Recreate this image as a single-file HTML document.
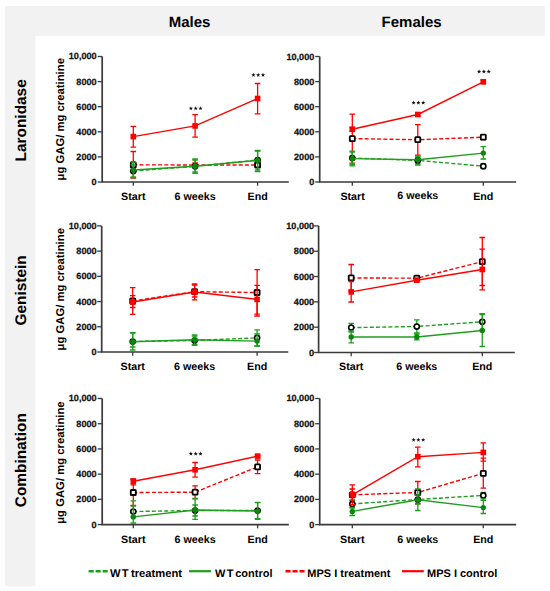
<!DOCTYPE html>
<html><head><meta charset="utf-8"><style>
html,body{margin:0;padding:0;background:#fff;width:550px;height:591px;overflow:hidden}
svg{display:block;text-rendering:geometricPrecision}
text{font-family:"Liberation Sans", sans-serif;font-weight:bold;fill:#000;font-kerning:none}
.h{font-size:15px;text-anchor:middle}
.rl{font-size:15.4px}
.yl{font-size:9.1px;text-anchor:end;fill:#111;stroke:#111;stroke-width:0.25px}
.xl{font-size:10.7px;text-anchor:middle}
.yt{font-size:11.3px;text-anchor:middle}
.lg{font-size:11px}
</style></head><body>
<svg width="550" height="591" viewBox="0 0 550 591">
<rect x="5" y="6" width="540" height="30" fill="#f2f2f2"/>
<rect x="5" y="6" width="30.4" height="580.3" fill="#f2f2f2"/>
<text x="189.5" y="27.2" class="h">Males</text>
<text x="411.6" y="27.2" class="h">Females</text>
<text transform="translate(26.0 120.35) rotate(-90)" class="h rl">Laronidase</text>
<text transform="translate(26.0 290.35) rotate(-90)" class="h rl">Genistein</text>
<text transform="translate(26.0 460.2) rotate(-90)" class="h rl">Combination</text>
<path d="M102.2 56.5 V182 H288.8" fill="none" stroke="#3a3a3a" stroke-width="1.7"/>
<path d="M97.7 182 H102.2" stroke="#3a3a3a" stroke-width="1.3"/>
<text x="96.6" y="185" class="yl">0</text>
<path d="M97.7 156.9 H102.2" stroke="#3a3a3a" stroke-width="1.3"/>
<text x="96.6" y="159.9" class="yl">2000</text>
<path d="M97.7 131.8 H102.2" stroke="#3a3a3a" stroke-width="1.3"/>
<text x="96.6" y="134.8" class="yl">4000</text>
<path d="M97.7 106.7 H102.2" stroke="#3a3a3a" stroke-width="1.3"/>
<text x="96.6" y="109.7" class="yl">6000</text>
<path d="M97.7 81.6 H102.2" stroke="#3a3a3a" stroke-width="1.3"/>
<text x="96.6" y="84.6" class="yl">8000</text>
<path d="M97.7 56.5 H102.2" stroke="#3a3a3a" stroke-width="1.3"/>
<text x="96.6" y="58.9" class="yl">10,000</text>
<path d="M133.3 182 V185.7" stroke="#3a3a3a" stroke-width="1.3"/>
<text x="133.3" y="199.6" class="xl">Start</text>
<text x="195.1" y="199.6" class="xl">6 weeks</text>
<path d="M257.6 182 V185.7" stroke="#3a3a3a" stroke-width="1.3"/>
<text x="257.6" y="199.6" class="xl">End</text>
<text transform="translate(63.6 119.3) rotate(-90)" class="yt">&#956;g GAG/ mg creatinine</text>
<path d="M133.3 164.8 L195.1 165 L257.6 165" fill="none" stroke="#ff0000" stroke-width="1.4" stroke-dasharray="4 2.2"/>
<path d="M133.3 151.5 V178 M130.5 151.5 H136.1 M130.5 178 H136.1" fill="none" stroke="#ff0000" stroke-width="1.3"/>
<path d="M195.1 163 V167 M192.3 163 H197.9 M192.3 167 H197.9" fill="none" stroke="#ff0000" stroke-width="1.3"/>
<path d="M257.6 163 V167 M254.8 163 H260.4 M254.8 167 H260.4" fill="none" stroke="#ff0000" stroke-width="1.3"/>
<rect x="130.8" y="162.3" width="5" height="5" rx="0.6" fill="#fff" stroke="#000" stroke-width="1.8"/>
<rect x="255.1" y="162.5" width="5" height="5" rx="0.6" fill="#fff" stroke="#000" stroke-width="1.8"/>
<path d="M133.3 171 L195.1 166.3 L257.6 160" fill="none" stroke="#1e9e1e" stroke-width="1.4" stroke-dasharray="4 2.2"/>
<path d="M133.3 165 V177 M130.5 165 H136.1 M130.5 177 H136.1" fill="none" stroke="#1e9e1e" stroke-width="1.3"/>
<path d="M195.1 160 V172 M192.3 160 H197.9 M192.3 172 H197.9" fill="none" stroke="#1e9e1e" stroke-width="1.3"/>
<path d="M257.6 151 V170 M254.8 151 H260.4 M254.8 170 H260.4" fill="none" stroke="#1e9e1e" stroke-width="1.3"/>
<circle cx="133.3" cy="171" r="2.55" fill="#fff" stroke="#000" stroke-width="1.6"/>
<circle cx="195.1" cy="166.3" r="2.55" fill="#fff" stroke="#000" stroke-width="1.6"/>
<circle cx="257.6" cy="160" r="2.55" fill="#fff" stroke="#000" stroke-width="1.6"/>
<path d="M133.3 136.6 L195.1 125.9 L257.6 98.5" fill="none" stroke="#ff0000" stroke-width="1.4"/>
<path d="M133.3 126.4 V147.2 M130.5 126.4 H136.1 M130.5 147.2 H136.1" fill="none" stroke="#ff0000" stroke-width="1.3"/>
<path d="M195.1 114.6 V137.2 M192.3 114.6 H197.9 M192.3 137.2 H197.9" fill="none" stroke="#ff0000" stroke-width="1.3"/>
<path d="M257.6 83.5 V113.8 M254.8 83.5 H260.4 M254.8 113.8 H260.4" fill="none" stroke="#ff0000" stroke-width="1.3"/>
<rect x="130.5" y="133.8" width="5.6" height="5.6" fill="#ff0000"/>
<rect x="192.3" y="123.1" width="5.6" height="5.6" fill="#ff0000"/>
<rect x="254.8" y="95.7" width="5.6" height="5.6" fill="#ff0000"/>
<path d="M133.3 170 L195.1 166.3 L257.6 160.4" fill="none" stroke="#1e9e1e" stroke-width="1.4"/>
<path d="M133.3 162 V177.7 M130.5 162 H136.1 M130.5 177.7 H136.1" fill="none" stroke="#1e9e1e" stroke-width="1.3"/>
<path d="M195.1 159 V173.4 M192.3 159 H197.9 M192.3 173.4 H197.9" fill="none" stroke="#1e9e1e" stroke-width="1.3"/>
<path d="M257.6 150.5 V171.7 M254.8 150.5 H260.4 M254.8 171.7 H260.4" fill="none" stroke="#1e9e1e" stroke-width="1.3"/>
<circle cx="133.3" cy="170" r="2.7" fill="#0c860c"/>
<circle cx="195.1" cy="166.3" r="2.7" fill="#0c860c"/>
<circle cx="257.6" cy="160.4" r="2.7" fill="#0c860c"/>
<polygon points="190.9,106.2 191.46,107.63 192.99,107.72 191.8,108.69 192.19,110.18 190.9,109.35 189.61,110.18 190,108.69 188.81,107.72 190.34,107.63" fill="#111"/>
<polygon points="195.7,106.2 196.26,107.63 197.79,107.72 196.6,108.69 196.99,110.18 195.7,109.35 194.41,110.18 194.8,108.69 193.61,107.72 195.14,107.63" fill="#111"/>
<polygon points="200.5,106.2 201.06,107.63 202.59,107.72 201.4,108.69 201.79,110.18 200.5,109.35 199.21,110.18 199.6,108.69 198.41,107.72 199.94,107.63" fill="#111"/>
<polygon points="253.4,72.8 253.96,74.23 255.49,74.32 254.3,75.29 254.69,76.78 253.4,75.95 252.11,76.78 252.5,75.29 251.31,74.32 252.84,74.23" fill="#111"/>
<polygon points="258.2,72.8 258.76,74.23 260.29,74.32 259.1,75.29 259.49,76.78 258.2,75.95 256.91,76.78 257.3,75.29 256.11,74.32 257.64,74.23" fill="#111"/>
<polygon points="263,72.8 263.56,74.23 265.09,74.32 263.9,75.29 264.29,76.78 263,75.95 261.71,76.78 262.1,75.29 260.91,74.32 262.44,74.23" fill="#111"/>
<path d="M319.7 56.5 V182 H516.2" fill="none" stroke="#3a3a3a" stroke-width="1.7"/>
<path d="M315.2 182 H319.7" stroke="#3a3a3a" stroke-width="1.3"/>
<text x="314.3" y="185" class="yl">0</text>
<path d="M315.2 156.9 H319.7" stroke="#3a3a3a" stroke-width="1.3"/>
<text x="314.3" y="159.9" class="yl">2000</text>
<path d="M315.2 131.8 H319.7" stroke="#3a3a3a" stroke-width="1.3"/>
<text x="314.3" y="134.8" class="yl">4000</text>
<path d="M315.2 106.7 H319.7" stroke="#3a3a3a" stroke-width="1.3"/>
<text x="314.3" y="109.7" class="yl">6000</text>
<path d="M315.2 81.6 H319.7" stroke="#3a3a3a" stroke-width="1.3"/>
<text x="314.3" y="84.6" class="yl">8000</text>
<path d="M315.2 56.5 H319.7" stroke="#3a3a3a" stroke-width="1.3"/>
<text x="314.3" y="60.1" class="yl">10,000</text>
<path d="M352.3 182 V185.7" stroke="#3a3a3a" stroke-width="1.3"/>
<text x="352.6" y="200.1" class="xl">Start</text>
<text x="417.8" y="198.6" class="xl">6 weeks</text>
<path d="M483.3 182 V185.7" stroke="#3a3a3a" stroke-width="1.3"/>
<text x="483.3" y="199.6" class="xl">End</text>
<path d="M352.3 138.6 L417.8 139.7 L483.3 137.2" fill="none" stroke="#ff0000" stroke-width="1.4" stroke-dasharray="4 2.2"/>
<path d="M352.3 114.2 V163.1 M349.5 114.2 H355.1 M349.5 163.1 H355.1" fill="none" stroke="#ff0000" stroke-width="1.3"/>
<path d="M417.8 124.7 V155.2 M415 124.7 H420.6 M415 155.2 H420.6" fill="none" stroke="#ff0000" stroke-width="1.3"/>
<path d="M483.3 135 V139.5 M480.5 135 H486.1 M480.5 139.5 H486.1" fill="none" stroke="#ff0000" stroke-width="1.3"/>
<rect x="349.8" y="136.1" width="5" height="5" rx="0.6" fill="#fff" stroke="#000" stroke-width="1.8"/>
<rect x="415.3" y="137.2" width="5" height="5" rx="0.6" fill="#fff" stroke="#000" stroke-width="1.8"/>
<rect x="480.8" y="134.7" width="5" height="5" rx="0.6" fill="#fff" stroke="#000" stroke-width="1.8"/>
<path d="M352.3 158 L417.8 160.4 L483.3 166.2" fill="none" stroke="#1e9e1e" stroke-width="1.4" stroke-dasharray="4 2.2"/>
<path d="M352.3 152 V164.5 M349.5 152 H355.1 M349.5 164.5 H355.1" fill="none" stroke="#1e9e1e" stroke-width="1.3"/>
<path d="M417.8 157 V164 M415 157 H420.6 M415 164 H420.6" fill="none" stroke="#1e9e1e" stroke-width="1.3"/>
<path d="M483.3 164 V168.5 M480.5 164 H486.1 M480.5 168.5 H486.1" fill="none" stroke="#1e9e1e" stroke-width="1.3"/>
<circle cx="352.3" cy="158" r="2.55" fill="#fff" stroke="#000" stroke-width="1.6"/>
<circle cx="417.8" cy="160.4" r="2.55" fill="#fff" stroke="#000" stroke-width="1.6"/>
<circle cx="483.3" cy="166.2" r="2.55" fill="#fff" stroke="#000" stroke-width="1.6"/>
<path d="M352.3 129.3 L417.8 114.5 L483.3 81.8" fill="none" stroke="#ff0000" stroke-width="1.4"/>
<path d="M352.3 127.5 V131.2 M349.5 127.5 H355.1 M349.5 131.2 H355.1" fill="none" stroke="#ff0000" stroke-width="1.3"/>
<path d="M417.8 113 V116 M415 113 H420.6 M415 116 H420.6" fill="none" stroke="#ff0000" stroke-width="1.3"/>
<path d="M483.3 80 V83.5 M480.5 80 H486.1 M480.5 83.5 H486.1" fill="none" stroke="#ff0000" stroke-width="1.3"/>
<rect x="349.5" y="126.5" width="5.6" height="5.6" fill="#ff0000"/>
<rect x="415" y="111.7" width="5.6" height="5.6" fill="#ff0000"/>
<rect x="480.5" y="79" width="5.6" height="5.6" fill="#ff0000"/>
<path d="M352.3 158.6 L417.8 159.8 L483.3 153.1" fill="none" stroke="#1e9e1e" stroke-width="1.4"/>
<path d="M352.3 151.2 V165.9 M349.5 151.2 H355.1 M349.5 165.9 H355.1" fill="none" stroke="#1e9e1e" stroke-width="1.3"/>
<path d="M417.8 156 V165.1 M415 156 H420.6 M415 165.1 H420.6" fill="none" stroke="#1e9e1e" stroke-width="1.3"/>
<path d="M483.3 146.7 V159 M480.5 146.7 H486.1 M480.5 159 H486.1" fill="none" stroke="#1e9e1e" stroke-width="1.3"/>
<circle cx="352.3" cy="158.6" r="2.7" fill="#0c860c"/>
<circle cx="417.8" cy="159.8" r="2.7" fill="#0c860c"/>
<circle cx="483.3" cy="153.1" r="2.7" fill="#0c860c"/>
<polygon points="413.6,100.6 414.16,102.03 415.69,102.12 414.5,103.09 414.89,104.58 413.6,103.75 412.31,104.58 412.7,103.09 411.51,102.12 413.04,102.03" fill="#111"/>
<polygon points="418.4,100.6 418.96,102.03 420.49,102.12 419.3,103.09 419.69,104.58 418.4,103.75 417.11,104.58 417.5,103.09 416.31,102.12 417.84,102.03" fill="#111"/>
<polygon points="423.2,100.6 423.76,102.03 425.29,102.12 424.1,103.09 424.49,104.58 423.2,103.75 421.91,104.58 422.3,103.09 421.11,102.12 422.64,102.03" fill="#111"/>
<polygon points="479.1,69.4 479.66,70.83 481.19,70.92 480,71.89 480.39,73.38 479.1,72.55 477.81,73.38 478.2,71.89 477.01,70.92 478.54,70.83" fill="#111"/>
<polygon points="483.9,69.4 484.46,70.83 485.99,70.92 484.8,71.89 485.19,73.38 483.9,72.55 482.61,73.38 483,71.89 481.81,70.92 483.34,70.83" fill="#111"/>
<polygon points="488.7,69.4 489.26,70.83 490.79,70.92 489.6,71.89 489.99,73.38 488.7,72.55 487.41,73.38 487.8,71.89 486.61,70.92 488.14,70.83" fill="#111"/>
<path d="M101.7 225.9 V352 H288.2" fill="none" stroke="#3a3a3a" stroke-width="1.7"/>
<path d="M97.2 352 H101.7" stroke="#3a3a3a" stroke-width="1.3"/>
<text x="96.6" y="355" class="yl">0</text>
<path d="M97.2 326.78 H101.7" stroke="#3a3a3a" stroke-width="1.3"/>
<text x="96.6" y="329.78" class="yl">2000</text>
<path d="M97.2 301.56 H101.7" stroke="#3a3a3a" stroke-width="1.3"/>
<text x="96.6" y="304.56" class="yl">4000</text>
<path d="M97.2 276.34 H101.7" stroke="#3a3a3a" stroke-width="1.3"/>
<text x="96.6" y="279.34" class="yl">6000</text>
<path d="M97.2 251.12 H101.7" stroke="#3a3a3a" stroke-width="1.3"/>
<text x="96.6" y="254.12" class="yl">8000</text>
<path d="M97.2 225.9 H101.7" stroke="#3a3a3a" stroke-width="1.3"/>
<text x="96.6" y="228.5" class="yl">10,000</text>
<path d="M132.7 352 V355.7" stroke="#3a3a3a" stroke-width="1.3"/>
<text x="132.7" y="370.2" class="xl">Start</text>
<text x="194.6" y="370.2" class="xl">6 weeks</text>
<path d="M257.1 352 V355.7" stroke="#3a3a3a" stroke-width="1.3"/>
<text x="257.1" y="370.2" class="xl">End</text>
<text transform="translate(63.6 289.3) rotate(-90)" class="yt">&#956;g GAG/ mg creatinine</text>
<path d="M132.7 301 L194.6 291.7 L257.1 292.5" fill="none" stroke="#ff0000" stroke-width="1.4" stroke-dasharray="4 2.2"/>
<path d="M132.7 287.7 V314.4 M129.9 287.7 H135.5 M129.9 314.4 H135.5" fill="none" stroke="#ff0000" stroke-width="1.3"/>
<path d="M194.6 285 V297 M191.8 285 H197.4 M191.8 297 H197.4" fill="none" stroke="#ff0000" stroke-width="1.3"/>
<path d="M257.1 269.7 V316 M254.3 269.7 H259.9 M254.3 316 H259.9" fill="none" stroke="#ff0000" stroke-width="1.3"/>
<rect x="130.2" y="298.5" width="5" height="5" rx="0.6" fill="#fff" stroke="#000" stroke-width="1.8"/>
<rect x="192.1" y="289.2" width="5" height="5" rx="0.6" fill="#fff" stroke="#000" stroke-width="1.8"/>
<rect x="254.6" y="290" width="5" height="5" rx="0.6" fill="#fff" stroke="#000" stroke-width="1.8"/>
<path d="M132.7 341.5 L194.6 340.5 L257.1 337.8" fill="none" stroke="#1e9e1e" stroke-width="1.4" stroke-dasharray="4 2.2"/>
<path d="M132.7 333 V347 M129.9 333 H135.5 M129.9 347 H135.5" fill="none" stroke="#1e9e1e" stroke-width="1.3"/>
<path d="M194.6 336 V345 M191.8 336 H197.4 M191.8 345 H197.4" fill="none" stroke="#1e9e1e" stroke-width="1.3"/>
<path d="M257.1 329.8 V346 M254.3 329.8 H259.9 M254.3 346 H259.9" fill="none" stroke="#1e9e1e" stroke-width="1.3"/>
<circle cx="132.7" cy="341.5" r="2.55" fill="#fff" stroke="#000" stroke-width="1.6"/>
<circle cx="194.6" cy="340.5" r="2.55" fill="#fff" stroke="#000" stroke-width="1.6"/>
<circle cx="257.1" cy="337.8" r="2.55" fill="#fff" stroke="#000" stroke-width="1.6"/>
<path d="M132.7 302 L194.6 292 L257.1 299.4" fill="none" stroke="#ff0000" stroke-width="1.4"/>
<path d="M132.7 295.7 V307.5 M129.9 295.7 H135.5 M129.9 307.5 H135.5" fill="none" stroke="#ff0000" stroke-width="1.3"/>
<path d="M194.6 284 V299.8 M191.8 284 H197.4 M191.8 299.8 H197.4" fill="none" stroke="#ff0000" stroke-width="1.3"/>
<path d="M257.1 285.4 V314.1 M254.3 285.4 H259.9 M254.3 314.1 H259.9" fill="none" stroke="#ff0000" stroke-width="1.3"/>
<rect x="129.9" y="299.2" width="5.6" height="5.6" fill="#ff0000"/>
<rect x="191.8" y="289.2" width="5.6" height="5.6" fill="#ff0000"/>
<rect x="254.3" y="296.6" width="5.6" height="5.6" fill="#ff0000"/>
<path d="M132.7 341.7 L194.6 339.7 L257.1 341.1" fill="none" stroke="#1e9e1e" stroke-width="1.4"/>
<path d="M132.7 332.7 V350 M129.9 332.7 H135.5 M129.9 350 H135.5" fill="none" stroke="#1e9e1e" stroke-width="1.3"/>
<path d="M194.6 334.8 V345 M191.8 334.8 H197.4 M191.8 345 H197.4" fill="none" stroke="#1e9e1e" stroke-width="1.3"/>
<path d="M257.1 334 V346.2 M254.3 334 H259.9 M254.3 346.2 H259.9" fill="none" stroke="#1e9e1e" stroke-width="1.3"/>
<circle cx="132.7" cy="341.7" r="2.7" fill="#0c860c"/>
<circle cx="194.6" cy="339.7" r="2.7" fill="#0c860c"/>
<circle cx="257.1" cy="341.1" r="2.7" fill="#0c860c"/>
<path d="M318.6 225.9 V352.5 H514.8" fill="none" stroke="#3a3a3a" stroke-width="1.7"/>
<path d="M314.1 352.5 H318.6" stroke="#3a3a3a" stroke-width="1.3"/>
<text x="314.1" y="355.5" class="yl">0</text>
<path d="M314.1 327.18 H318.6" stroke="#3a3a3a" stroke-width="1.3"/>
<text x="314.1" y="330.18" class="yl">2000</text>
<path d="M314.1 301.86 H318.6" stroke="#3a3a3a" stroke-width="1.3"/>
<text x="314.1" y="304.86" class="yl">4000</text>
<path d="M314.1 276.54 H318.6" stroke="#3a3a3a" stroke-width="1.3"/>
<text x="314.1" y="279.54" class="yl">6000</text>
<path d="M314.1 251.22 H318.6" stroke="#3a3a3a" stroke-width="1.3"/>
<text x="314.1" y="254.22" class="yl">8000</text>
<path d="M314.1 225.9 H318.6" stroke="#3a3a3a" stroke-width="1.3"/>
<text x="314.1" y="228.9" class="yl">10,000</text>
<path d="M351.2 352.5 V356.2" stroke="#3a3a3a" stroke-width="1.3"/>
<text x="351.2" y="370.2" class="xl">Start</text>
<text x="416.8" y="370.2" class="xl">6 weeks</text>
<path d="M482.3 352.5 V356.2" stroke="#3a3a3a" stroke-width="1.3"/>
<text x="482.3" y="370.2" class="xl">End</text>
<path d="M351.2 277.9 L416.8 278.2 L482.3 261.6" fill="none" stroke="#ff0000" stroke-width="1.4" stroke-dasharray="4 2.2"/>
<path d="M351.2 264.5 V291 M348.4 264.5 H354 M348.4 291 H354" fill="none" stroke="#ff0000" stroke-width="1.3"/>
<path d="M416.8 276.5 V280 M414 276.5 H419.6 M414 280 H419.6" fill="none" stroke="#ff0000" stroke-width="1.3"/>
<path d="M482.3 237.5 V285.5 M479.5 237.5 H485.1 M479.5 285.5 H485.1" fill="none" stroke="#ff0000" stroke-width="1.3"/>
<rect x="348.7" y="275.4" width="5" height="5" rx="0.6" fill="#fff" stroke="#000" stroke-width="1.8"/>
<rect x="414.3" y="275.7" width="5" height="5" rx="0.6" fill="#fff" stroke="#000" stroke-width="1.8"/>
<rect x="479.8" y="259.1" width="5" height="5" rx="0.6" fill="#fff" stroke="#000" stroke-width="1.8"/>
<path d="M351.2 327.6 L416.8 326.5 L482.3 321.8" fill="none" stroke="#1e9e1e" stroke-width="1.4" stroke-dasharray="4 2.2"/>
<path d="M351.2 323.3 V332 M348.4 323.3 H354 M348.4 332 H354" fill="none" stroke="#1e9e1e" stroke-width="1.3"/>
<path d="M416.8 319.8 V333 M414 319.8 H419.6 M414 333 H419.6" fill="none" stroke="#1e9e1e" stroke-width="1.3"/>
<path d="M482.3 313.7 V330 M479.5 313.7 H485.1 M479.5 330 H485.1" fill="none" stroke="#1e9e1e" stroke-width="1.3"/>
<circle cx="351.2" cy="327.6" r="2.55" fill="#fff" stroke="#000" stroke-width="1.6"/>
<circle cx="416.8" cy="326.5" r="2.55" fill="#fff" stroke="#000" stroke-width="1.6"/>
<circle cx="482.3" cy="321.8" r="2.55" fill="#fff" stroke="#000" stroke-width="1.6"/>
<path d="M351.2 291.9 L416.8 280.2 L482.3 269.5" fill="none" stroke="#ff0000" stroke-width="1.4"/>
<path d="M351.2 281.5 V302 M348.4 281.5 H354 M348.4 302 H354" fill="none" stroke="#ff0000" stroke-width="1.3"/>
<path d="M416.8 278.5 V282 M414 278.5 H419.6 M414 282 H419.6" fill="none" stroke="#ff0000" stroke-width="1.3"/>
<path d="M482.3 249.1 V289.8 M479.5 249.1 H485.1 M479.5 289.8 H485.1" fill="none" stroke="#ff0000" stroke-width="1.3"/>
<rect x="348.4" y="289.1" width="5.6" height="5.6" fill="#ff0000"/>
<rect x="414" y="277.4" width="5.6" height="5.6" fill="#ff0000"/>
<rect x="479.5" y="266.7" width="5.6" height="5.6" fill="#ff0000"/>
<path d="M351.2 337 L416.8 337 L482.3 330.5" fill="none" stroke="#1e9e1e" stroke-width="1.4"/>
<path d="M351.2 331 V342.8 M348.4 331 H354 M348.4 342.8 H354" fill="none" stroke="#1e9e1e" stroke-width="1.3"/>
<path d="M416.8 334 V339.9 M414 334 H419.6 M414 339.9 H419.6" fill="none" stroke="#1e9e1e" stroke-width="1.3"/>
<path d="M482.3 314.5 V346.5 M479.5 314.5 H485.1 M479.5 346.5 H485.1" fill="none" stroke="#1e9e1e" stroke-width="1.3"/>
<circle cx="351.2" cy="337" r="2.7" fill="#0c860c"/>
<circle cx="416.8" cy="337" r="2.7" fill="#0c860c"/>
<circle cx="482.3" cy="330.5" r="2.7" fill="#0c860c"/>
<path d="M102.2 398.5 V524.6 H288.8" fill="none" stroke="#3a3a3a" stroke-width="1.7"/>
<path d="M97.7 524.6 H102.2" stroke="#3a3a3a" stroke-width="1.3"/>
<text x="96.6" y="527.6" class="yl">0</text>
<path d="M97.7 499.38 H102.2" stroke="#3a3a3a" stroke-width="1.3"/>
<text x="96.6" y="502.38" class="yl">2000</text>
<path d="M97.7 474.16 H102.2" stroke="#3a3a3a" stroke-width="1.3"/>
<text x="96.6" y="477.16" class="yl">4000</text>
<path d="M97.7 448.94 H102.2" stroke="#3a3a3a" stroke-width="1.3"/>
<text x="96.6" y="451.94" class="yl">6000</text>
<path d="M97.7 423.72 H102.2" stroke="#3a3a3a" stroke-width="1.3"/>
<text x="96.6" y="426.72" class="yl">8000</text>
<path d="M97.7 398.5 H102.2" stroke="#3a3a3a" stroke-width="1.3"/>
<text x="96.6" y="400.8" class="yl">10,000</text>
<path d="M133.3 524.6 V528.3" stroke="#3a3a3a" stroke-width="1.3"/>
<text x="133.3" y="542.9" class="xl">Start</text>
<text x="195.1" y="542.9" class="xl">6 weeks</text>
<path d="M257.6 524.6 V528.3" stroke="#3a3a3a" stroke-width="1.3"/>
<text x="257.6" y="542.9" class="xl">End</text>
<text transform="translate(63.6 462.6) rotate(-90)" class="yt">&#956;g GAG/ mg creatinine</text>
<path d="M133.3 492.5 L195.1 492.2 L257.6 466.9" fill="none" stroke="#ff0000" stroke-width="1.4" stroke-dasharray="4 2.2"/>
<path d="M133.3 479.5 V505.5 M130.5 479.5 H136.1 M130.5 505.5 H136.1" fill="none" stroke="#ff0000" stroke-width="1.3"/>
<path d="M195.1 485.8 V498.9 M192.3 485.8 H197.9 M192.3 498.9 H197.9" fill="none" stroke="#ff0000" stroke-width="1.3"/>
<path d="M257.6 460 V473.6 M254.8 460 H260.4 M254.8 473.6 H260.4" fill="none" stroke="#ff0000" stroke-width="1.3"/>
<rect x="130.8" y="490" width="5" height="5" rx="0.6" fill="#fff" stroke="#000" stroke-width="1.8"/>
<rect x="192.6" y="489.7" width="5" height="5" rx="0.6" fill="#fff" stroke="#000" stroke-width="1.8"/>
<rect x="255.1" y="464.4" width="5" height="5" rx="0.6" fill="#fff" stroke="#000" stroke-width="1.8"/>
<path d="M133.3 511.5 L195.1 510.5 L257.6 510.5" fill="none" stroke="#1e9e1e" stroke-width="1.4" stroke-dasharray="4 2.2"/>
<path d="M133.3 506 V517 M130.5 506 H136.1 M130.5 517 H136.1" fill="none" stroke="#1e9e1e" stroke-width="1.3"/>
<path d="M195.1 505 V516 M192.3 505 H197.9 M192.3 516 H197.9" fill="none" stroke="#1e9e1e" stroke-width="1.3"/>
<path d="M257.6 502.6 V518.6 M254.8 502.6 H260.4 M254.8 518.6 H260.4" fill="none" stroke="#1e9e1e" stroke-width="1.3"/>
<circle cx="133.3" cy="511.5" r="2.55" fill="#fff" stroke="#000" stroke-width="1.6"/>
<circle cx="195.1" cy="510.5" r="2.55" fill="#fff" stroke="#000" stroke-width="1.6"/>
<circle cx="257.6" cy="510.5" r="2.55" fill="#fff" stroke="#000" stroke-width="1.6"/>
<path d="M133.3 481.3 L195.1 469.8 L257.6 456.1" fill="none" stroke="#ff0000" stroke-width="1.4"/>
<path d="M133.3 478.8 V484.9 M130.5 478.8 H136.1 M130.5 484.9 H136.1" fill="none" stroke="#ff0000" stroke-width="1.3"/>
<path d="M195.1 462.5 V477.1 M192.3 462.5 H197.9 M192.3 477.1 H197.9" fill="none" stroke="#ff0000" stroke-width="1.3"/>
<path d="M257.6 455 V457.2 M254.8 455 H260.4 M254.8 457.2 H260.4" fill="none" stroke="#ff0000" stroke-width="1.3"/>
<rect x="130.5" y="478.5" width="5.6" height="5.6" fill="#ff0000"/>
<rect x="192.3" y="467" width="5.6" height="5.6" fill="#ff0000"/>
<rect x="254.8" y="453.3" width="5.6" height="5.6" fill="#ff0000"/>
<path d="M133.3 516.9 L195.1 510 L257.6 511.1" fill="none" stroke="#1e9e1e" stroke-width="1.4"/>
<path d="M133.3 500.9 V523 M130.5 500.9 H136.1 M130.5 523 H136.1" fill="none" stroke="#1e9e1e" stroke-width="1.3"/>
<path d="M195.1 498.3 V519.3 M192.3 498.3 H197.9 M192.3 519.3 H197.9" fill="none" stroke="#1e9e1e" stroke-width="1.3"/>
<path d="M257.6 502.4 V519.3 M254.8 502.4 H260.4 M254.8 519.3 H260.4" fill="none" stroke="#1e9e1e" stroke-width="1.3"/>
<circle cx="133.3" cy="516.9" r="2.7" fill="#0c860c"/>
<circle cx="195.1" cy="510" r="2.7" fill="#0c860c"/>
<circle cx="257.6" cy="511.1" r="2.7" fill="#0c860c"/>
<polygon points="190.9,451.6 191.46,453.03 192.99,453.12 191.8,454.09 192.19,455.58 190.9,454.75 189.61,455.58 190,454.09 188.81,453.12 190.34,453.03" fill="#111"/>
<polygon points="195.7,451.6 196.26,453.03 197.79,453.12 196.6,454.09 196.99,455.58 195.7,454.75 194.41,455.58 194.8,454.09 193.61,453.12 195.14,453.03" fill="#111"/>
<polygon points="200.5,451.6 201.06,453.03 202.59,453.12 201.4,454.09 201.79,455.58 200.5,454.75 199.21,455.58 199.6,454.09 198.41,453.12 199.94,453.03" fill="#111"/>
<path d="M319.7 398.5 V524.6 H516.2" fill="none" stroke="#3a3a3a" stroke-width="1.7"/>
<path d="M315.2 524.6 H319.7" stroke="#3a3a3a" stroke-width="1.3"/>
<text x="314.3" y="527.6" class="yl">0</text>
<path d="M315.2 499.38 H319.7" stroke="#3a3a3a" stroke-width="1.3"/>
<text x="314.3" y="502.38" class="yl">2000</text>
<path d="M315.2 474.16 H319.7" stroke="#3a3a3a" stroke-width="1.3"/>
<text x="314.3" y="477.16" class="yl">4000</text>
<path d="M315.2 448.94 H319.7" stroke="#3a3a3a" stroke-width="1.3"/>
<text x="314.3" y="451.94" class="yl">6000</text>
<path d="M315.2 423.72 H319.7" stroke="#3a3a3a" stroke-width="1.3"/>
<text x="314.3" y="426.72" class="yl">8000</text>
<path d="M315.2 398.5 H319.7" stroke="#3a3a3a" stroke-width="1.3"/>
<text x="314.3" y="401.3" class="yl">10,000</text>
<path d="M352.3 524.6 V528.3" stroke="#3a3a3a" stroke-width="1.3"/>
<text x="352.3" y="542.9" class="xl">Start</text>
<text x="417.8" y="542.9" class="xl">6 weeks</text>
<path d="M483.3 524.6 V528.3" stroke="#3a3a3a" stroke-width="1.3"/>
<text x="483.3" y="542.9" class="xl">End</text>
<path d="M352.3 494.8 L417.8 492.5 L483.3 473.3" fill="none" stroke="#ff0000" stroke-width="1.4" stroke-dasharray="4 2.2"/>
<path d="M352.3 489 V500.5 M349.5 489 H355.1 M349.5 500.5 H355.1" fill="none" stroke="#ff0000" stroke-width="1.3"/>
<path d="M417.8 481.5 V503.5 M415 481.5 H420.6 M415 503.5 H420.6" fill="none" stroke="#ff0000" stroke-width="1.3"/>
<path d="M483.3 458.2 V488.1 M480.5 458.2 H486.1 M480.5 488.1 H486.1" fill="none" stroke="#ff0000" stroke-width="1.3"/>
<rect x="349.8" y="492.3" width="5" height="5" rx="0.6" fill="#fff" stroke="#000" stroke-width="1.8"/>
<rect x="415.3" y="490" width="5" height="5" rx="0.6" fill="#fff" stroke="#000" stroke-width="1.8"/>
<rect x="480.8" y="470.8" width="5" height="5" rx="0.6" fill="#fff" stroke="#000" stroke-width="1.8"/>
<path d="M352.3 503.9 L417.8 499.5 L483.3 495.4" fill="none" stroke="#1e9e1e" stroke-width="1.4" stroke-dasharray="4 2.2"/>
<path d="M352.3 500 V508 M349.5 500 H355.1 M349.5 508 H355.1" fill="none" stroke="#1e9e1e" stroke-width="1.3"/>
<path d="M417.8 495 V504 M415 495 H420.6 M415 504 H420.6" fill="none" stroke="#1e9e1e" stroke-width="1.3"/>
<path d="M483.3 492.5 V500.4 M480.5 492.5 H486.1 M480.5 500.4 H486.1" fill="none" stroke="#1e9e1e" stroke-width="1.3"/>
<circle cx="352.3" cy="503.9" r="2.55" fill="#fff" stroke="#000" stroke-width="1.6"/>
<circle cx="417.8" cy="499.5" r="2.55" fill="#fff" stroke="#000" stroke-width="1.6"/>
<circle cx="483.3" cy="495.4" r="2.55" fill="#fff" stroke="#000" stroke-width="1.6"/>
<path d="M352.3 494.8 L417.8 456.7 L483.3 452.4" fill="none" stroke="#ff0000" stroke-width="1.4"/>
<path d="M352.3 484.9 V504.7 M349.5 484.9 H355.1 M349.5 504.7 H355.1" fill="none" stroke="#ff0000" stroke-width="1.3"/>
<path d="M417.8 447.1 V466.9 M415 447.1 H420.6 M415 466.9 H420.6" fill="none" stroke="#ff0000" stroke-width="1.3"/>
<path d="M483.3 442.8 V461.1 M480.5 442.8 H486.1 M480.5 461.1 H486.1" fill="none" stroke="#ff0000" stroke-width="1.3"/>
<rect x="349.5" y="492" width="5.6" height="5.6" fill="#ff0000"/>
<rect x="415" y="453.9" width="5.6" height="5.6" fill="#ff0000"/>
<rect x="480.5" y="449.6" width="5.6" height="5.6" fill="#ff0000"/>
<path d="M352.3 511.4 L417.8 499.8 L483.3 507.6" fill="none" stroke="#1e9e1e" stroke-width="1.4"/>
<path d="M352.3 507.3 V515.5 M349.5 507.3 H355.1 M349.5 515.5 H355.1" fill="none" stroke="#1e9e1e" stroke-width="1.3"/>
<path d="M417.8 489 V510.5 M415 489 H420.6 M415 510.5 H420.6" fill="none" stroke="#1e9e1e" stroke-width="1.3"/>
<path d="M483.3 498.9 V513.5 M480.5 498.9 H486.1 M480.5 513.5 H486.1" fill="none" stroke="#1e9e1e" stroke-width="1.3"/>
<circle cx="352.3" cy="511.4" r="2.7" fill="#0c860c"/>
<circle cx="417.8" cy="499.8" r="2.7" fill="#0c860c"/>
<circle cx="483.3" cy="507.6" r="2.7" fill="#0c860c"/>
<polygon points="413.6,437.7 414.16,439.13 415.69,439.22 414.5,440.19 414.89,441.68 413.6,440.85 412.31,441.68 412.7,440.19 411.51,439.22 413.04,439.13" fill="#111"/>
<polygon points="418.4,437.7 418.96,439.13 420.49,439.22 419.3,440.19 419.69,441.68 418.4,440.85 417.11,441.68 417.5,440.19 416.31,439.22 417.84,439.13" fill="#111"/>
<polygon points="423.2,437.7 423.76,439.13 425.29,439.22 424.1,440.19 424.49,441.68 423.2,440.85 421.91,441.68 422.3,440.19 421.11,439.22 422.64,439.13" fill="#111"/>
<path d="M88.6 571.2 H107.7" stroke="#1e9e1e" stroke-width="2.5" stroke-dasharray="5.1 1.9"/>
<text x="110" y="577" class="lg" style="font-size:11.2px">W<tspan dx="1.1">T</tspan><tspan dx="-0.6"> treatment</tspan></text>
<path d="M189 571.2 H211" stroke="#1e9e1e" stroke-width="2.2"/>
<text x="215" y="577" class="lg">W<tspan dx="1.4">T</tspan><tspan dx="-1.4"> control</tspan></text>
<path d="M285.5 571.2 H304.6" stroke="#ff0000" stroke-width="2.5" stroke-dasharray="5.1 1.9"/>
<text x="307.3" y="577" class="lg">MPS I treatment</text>
<path d="M402 571.2 H423.8" stroke="#ff0000" stroke-width="2.2"/>
<text x="427" y="577" class="lg">MPS I control</text>
</svg>
</body></html>
